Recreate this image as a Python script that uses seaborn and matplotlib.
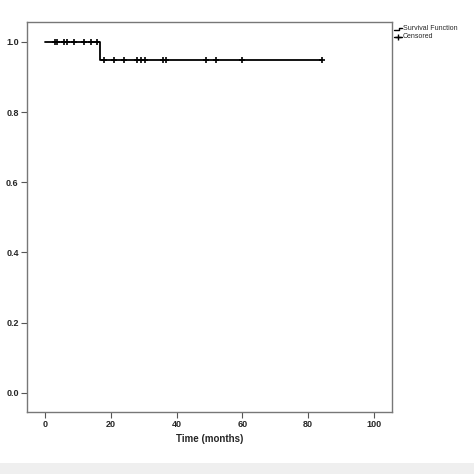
import numpy as np
import pandas as pd
import seaborn as sns
import matplotlib.pyplot as plt
from matplotlib.lines import Line2D
from matplotlib.patches import Rectangle

step_time = [0, 16.7, 16.7, 84.1]
step_surv = [1.0, 1.0, 0.949, 0.949]
censor_time = [3.0, 3.6, 5.8, 6.6, 8.9, 11.9, 14.0, 15.7,
               17.9, 21.0, 24.1, 28.1, 29.2, 30.4, 36.0, 36.8,
               48.9, 52.0, 60.0, 84.1]
censor_surv = [1.0] * 8 + [0.949] * 12
x_ticks = [0, 20, 40, 60, 80, 100]
y_ticks = [0.0, 0.2, 0.4, 0.6, 0.8, 1.0]

sns.set_style('white')
plt.rcParams['font.family'] = ['Liberation Sans', 'DejaVu Sans']

fig = plt.figure(figsize=(4.74, 4.74), dpi=100)
ax = fig.add_axes([27 / 474, 62 / 474, 365 / 474, 390 / 474])

steps = pd.DataFrame({'t': step_time, 's': step_surv})
cens = pd.DataFrame({'t': censor_time, 's': censor_surv})
sns.lineplot(data=steps, x='t', y='s', ax=ax, color='black', lw=1.3,
             sort=False, estimator=None)
sns.scatterplot(data=cens, x='t', y='s', ax=ax, marker='+', color='black',
                s=18, linewidth=1.2)

ax.set_xlim(-5.5, 105.5)
ax.set_ylim(-0.055, 1.057)
ax.set_xticks(x_ticks)
ax.set_yticks(y_ticks)
ax.set_xticklabels([str(v) for v in x_ticks], fontsize=6.5, fontweight='bold')
ax.set_yticklabels(['%.1f' % v for v in y_ticks], fontsize=6.5, fontweight='bold')
ax.tick_params(axis='both', direction='out', length=4, width=0.8,
               color='#555555', pad=2, left=True, bottom=True)
ax.set_xlabel('Time (months)', fontsize=7, fontweight='bold', labelpad=3)
ax.set_ylabel('')
for sp in ax.spines.values():
    sp.set_color('#777777')
    sp.set_linewidth(1.0)

# legend drawn by hand to get the SPSS step icon
def px(x, y):
    return x / 474, 1 - y / 474

xs, ys = zip(*[px(394, 30), px(399, 30), px(399, 27.5), px(402, 27.5)])
fig.add_artist(Line2D(xs, ys, color='black', lw=1.0))
fig.text(*px(403, 28.5), 'Survival Function', fontsize=5, va='center')
xs, ys = zip(*[px(394, 37), px(402, 37)])
fig.add_artist(Line2D(xs, ys, color='black', lw=1.0))
fig.add_artist(Line2D([px(398, 37)[0]], [px(398, 37)[1]], marker='+',
                      color='black', ms=4.5, mew=1.0))
fig.text(*px(403, 37), 'Censored', fontsize=5, va='center')

fig.add_artist(Rectangle((0, 0), 1, 11 / 474, transform=fig.transFigure,
                         color='#efefef', lw=0))

fig.savefig('out.png', dpi=100)
